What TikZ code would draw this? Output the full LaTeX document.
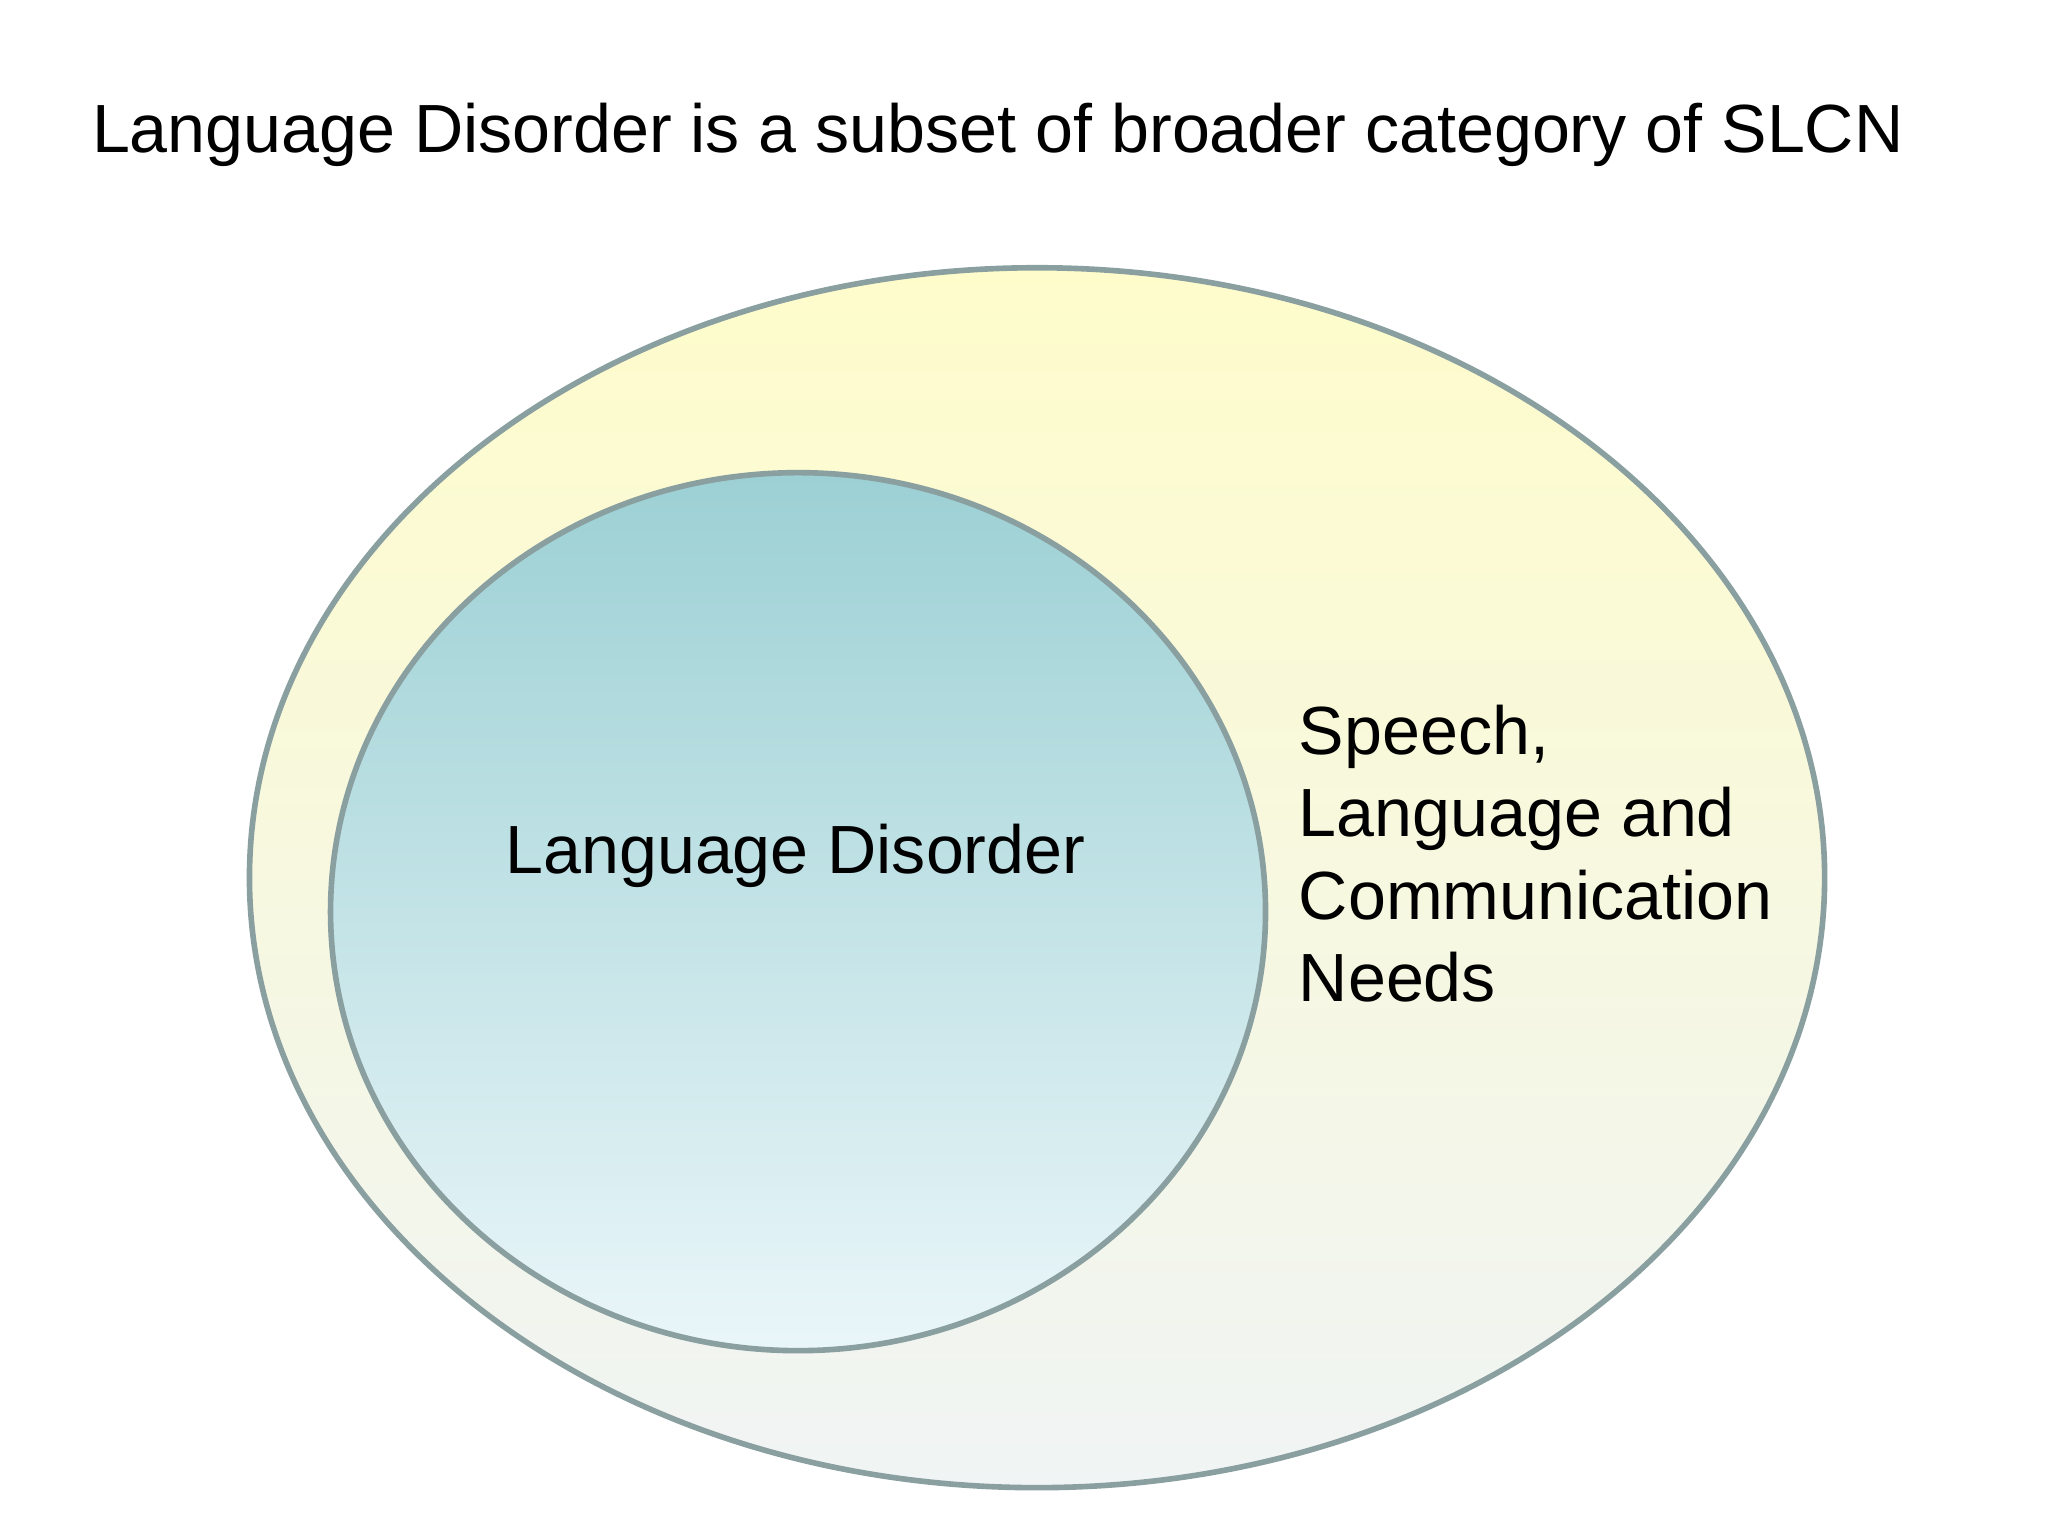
\documentclass[tikz,border=0pt]{standalone}
\usepackage{fontspec}
\usetikzlibrary{shapes.geometric}
\setmainfont{Liberation Sans}
\definecolor{edgec}{HTML}{8A9FA0}
\definecolor{yel}{HTML}{FEFCCB}
\definecolor{yelb}{HTML}{F0F4F4}
\definecolor{teal1}{HTML}{9CD0D4}
\definecolor{teal2}{HTML}{EAF6F9}
\tikzset{ring/.style={draw=edgec,line width=1.6pt},
lbl/.style={font=\fontsize{19.4pt}{23.5pt}\selectfont,text=black}}
\begin{document}
\begin{tikzpicture}[x=0.01306cm,y=-0.01306cm]
\useasboundingbox (0,0) rectangle (1568,1176);
\node[font=\fontsize{19.4pt}{23pt}\selectfont] (title) at (764,103) {Language Disorder is a subset of broader category of SLCN};
\path[ring,top color=yel,bottom color=yelb] (794,672) ellipse [x radius=603,y radius=467];
\node[ring,ellipse,minimum width=9.35cm,minimum height=8.78cm,inner sep=0pt,top color=teal1,bottom color=teal2] (ld) at (611,698) {};
\node[lbl] (ldt) at (609,655) {Language Disorder};
\node[lbl,anchor=north west,align=left] (slcn) at (985,530) {Speech,\\Language and\\Communication\\Needs};
\end{tikzpicture}
\end{document}
